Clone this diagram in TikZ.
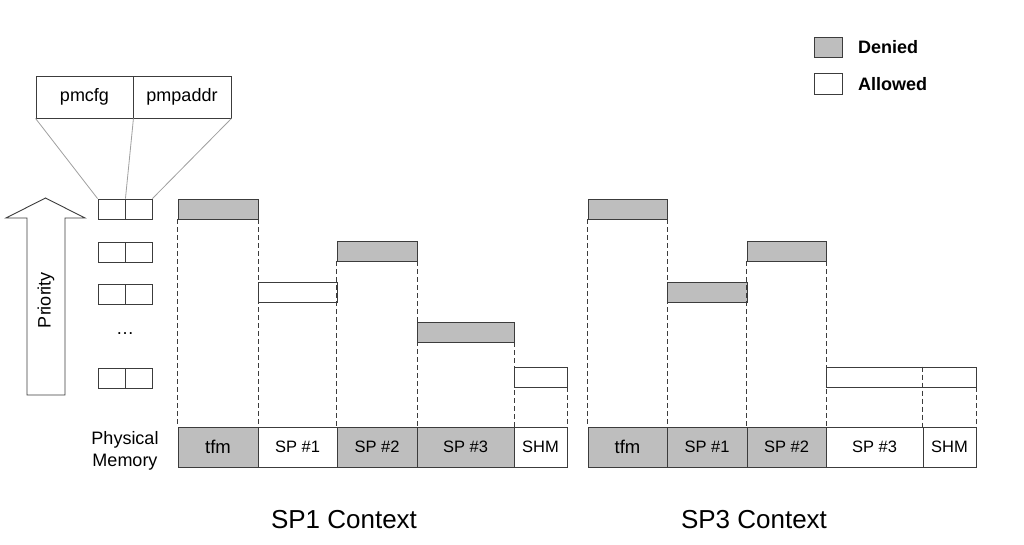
\documentclass[tikz,border=0pt]{standalone}
\usepackage{fontspec}
\setmainfont{Liberation Sans}
\begin{document}
\begin{tikzpicture}[x=1pt,y=-1pt,
  lc/.style={draw={rgb,255:red,60;green,60;blue,60}},
  box/.style={lc, line width=0.9pt, inner sep=0pt, minimum height=20pt},
  deny/.style={box, fill={rgb,255:red,190;green,190;blue,190}},
  allow/.style={box, fill=white},
  mem/.style={lc, line width=0.9pt, inner sep=0pt, minimum height=40pt, font=\fontsize{16.5}{18}\selectfont},
  reg/.style={lc, line width=0.9pt, inner sep=0pt, minimum height=20pt, minimum width=27pt},
  dsh/.style={lc, line width=0.8pt, dash pattern=on 5pt off 3pt},
  fan/.style={draw={rgb,255:red,160;green,160;blue,160}, line width=0.8pt},
  txt/.style={font=\fontsize{18}{22}\selectfont, inner sep=0pt},
  captxt/.style={font=\fontsize{26}{30}\selectfont, inner sep=0pt}]
\useasboundingbox (0,0) rectangle (1024,545);
\fill[white] (0,0) rectangle (1024,545);

% legend
\node[deny, minimum width=28pt] (ld) at (828,47) {};
\node[allow, minimum width=28pt, minimum height=21pt] (la) at (828,83.5) {};
\node[txt, font=\fontsize{18}{22}\selectfont\bfseries, anchor=west] (ldt) at (858,47) {Denied};
\node[txt, font=\fontsize{18}{22}\selectfont\bfseries, anchor=west] (lat) at (858,84) {Allowed};

% register detail box
\node[reg, minimum width=97pt, minimum height=42pt, txt] (pc) at (84.5,97) {pmcfg};
\node[reg, minimum width=98pt, minimum height=42pt, txt] (pa) at (182,97) {pmpaddr};

% register rows
\node[reg] (r1a) at (111.5,209) {};
\node[reg] (r1b) at (138.5,209) {};
\node[reg] (r2a) at (111.5,252) {};
\node[reg] (r2b) at (138.5,252) {};
\node[reg] (r3a) at (111.5,294) {};
\node[reg] (r3b) at (138.5,294) {};
\node[txt] (dots) at (125,334) {\dots};
\node[reg] (r5a) at (111.5,378) {};
\node[reg] (r5b) at (138.5,378) {};

\draw[fan] (pc.south west) -- (r1a.north west);
\draw[fan] (pc.south east) -- (r1a.north east);
\draw[fan] (pa.south east) -- (r1b.north east);

% priority arrow
\draw[lc, line width=0.9pt, fill=white] (27,395) -- (27,218) -- (6,218) -- (45.5,198) -- (85,218) -- (65,218) -- (65,395) -- cycle;
\node[txt, rotate=90] (prio) at (46,300) {Priority};

% physical memory label
\node[txt, align=center] (pm) at (125,451) {Physical\\Memory};

% ===== SP1 context =====
\node[mem, deny, minimum height=40pt, minimum width=80pt, font=\fontsize{18.5}{20}\selectfont] (m1) at (218,447) {tfm};
\node[mem, allow, minimum height=40pt, minimum width=79pt] (m2) at (297.5,447) {SP \#1};
\node[mem, deny, minimum height=40pt, minimum width=80pt] (m3) at (377,447) {SP \#2};
\node[mem, deny, minimum height=40pt, minimum width=97pt] (m4) at (465.5,447) {SP \#3};
\node[mem, allow, minimum height=40pt, minimum width=53pt] (m5) at (540.5,447) {SHM};

\node[deny, minimum width=80pt] (p1) at (218,209) {};
\node[allow, minimum width=79pt] (p2) at (297.5,292) {};
\node[deny, minimum width=80pt] (p3) at (377,251) {};
\node[deny, minimum width=97pt] (p4) at (465.5,332) {};
\node[allow, minimum width=53pt] (p5) at (540.5,377) {};

\draw[dsh] (p1.south west) -- (m1.north west);
\draw[dsh] (p1.south east) -- (m1.north east);
\draw[dsh] (p3.south west) -- (m3.north west);
\draw[dsh] (p3.south east) -- (m3.north east);
\draw[dsh] (p4.south east) -- (m4.north east);
\draw[dsh] (p5.south east) -- (m5.north east);

\node[captxt] (c1) at (344,520) {SP1 Context};

% ===== SP3 context =====
\node[mem, deny, minimum height=40pt, minimum width=79pt, font=\fontsize{18.5}{20}\selectfont] (m6) at (627.5,447) {tfm};
\node[mem, deny, minimum height=40pt, minimum width=80pt] (m7) at (707,447) {SP \#1};
\node[mem, deny, minimum height=40pt, minimum width=79pt] (m8) at (786.5,447) {SP \#2};
\node[mem, allow, minimum height=40pt, minimum width=97pt] (m9) at (874.5,447) {SP \#3};
\node[mem, allow, minimum height=40pt, minimum width=53pt] (m10) at (949.5,447) {SHM};

\node[deny, minimum width=79pt] (q1) at (627.5,209) {};
\node[deny, minimum width=80pt] (q2) at (707,292) {};
\node[deny, minimum width=79pt] (q3) at (786.5,251) {};
\node[allow, minimum width=150pt] (q4) at (901,377) {};

\draw[dsh] (q1.south west) -- (m6.north west);
\draw[dsh] (q1.south east) -- (m6.north east);
\draw[dsh] (q3.south west) -- (m8.north west);
\draw[dsh] (q3.south east) -- (m8.north east);
\draw[dsh] (m10.north west |- q4.north) -- (m10.north west);
\draw[dsh] (q4.south east) -- (m10.north east);

\node[captxt] (c3) at (754,520) {SP3 Context};
\end{tikzpicture}
\end{document}
